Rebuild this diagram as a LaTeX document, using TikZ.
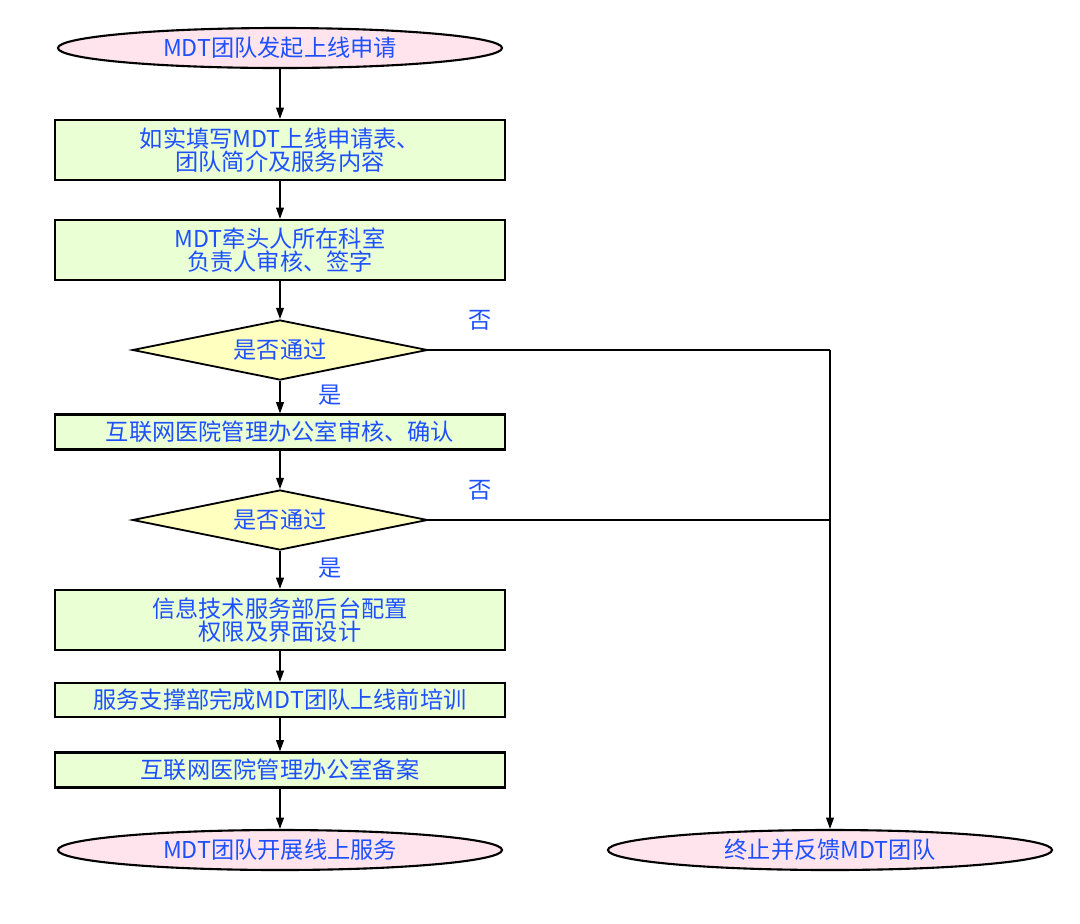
\documentclass[tikz,border=0pt]{standalone}
\usepackage{fontspec}
\setmainfont{Noto Sans CJK SC}
\usepackage{xcolor}
\usepackage{tikz}
\usetikzlibrary{shapes.geometric,arrows.meta}
\definecolor{txtblue}{RGB}{30,80,255}
\definecolor{pinkfill}{RGB}{255,228,238}
\definecolor{greenfill}{RGB}{234,255,212}
\definecolor{yellowfill}{RGB}{255,255,192}

\begin{document}
\begin{tikzpicture}[x=0.025cm,y=-0.025cm,
    font=\fontsize{16.5pt}{15pt}\selectfont, text=txtblue,
    endpoint/.style={ellipse,draw,line width=1.5pt,fill=pinkfill,minimum width=11.1cm,minimum height=1cm,inner sep=0pt},
    stepbox/.style={rectangle,draw,line width=1.5pt,fill=greenfill,minimum width=11.25cm,align=center,inner sep=0pt},
    decide/.style={diamond,draw,line width=1.3pt,fill=yellowfill,minimum width=7.375cm,minimum height=1.5cm,shape aspect=4.9,inner sep=0pt},
    flow/.style={-{Triangle[length=8pt,width=5.5pt]},line width=1pt},
    link/.style={line width=1pt}]
    \useasboundingbox (0,0) rectangle (1080,923);
    % define coordinates
    \coordinate (R1) at (830,350) ;
    \coordinate (R2) at (830,520) ;
    % left column
    \node[endpoint] (start) at (280,48) {MDT团队发起上线申请};
    \node[stepbox,minimum height=1.5cm] (fill) at (280,150) {如实填写MDT上线申请表、\\团队简介及服务内容};
    \node[stepbox,minimum height=1.5cm] (dept) at (280,250) {MDT牵头人所在科室\\负责人审核、签字};
    \node[decide] (check1) at (280,350) {是否通过};
    \node[stepbox,minimum height=0.875cm] (office) at (280,432) {互联网医院管理办公室审核、确认};
    \node[decide] (check2) at (280,520) {是否通过};
    \node[stepbox,minimum height=1.5cm] (config) at (280,620) {信息技术服务部后台配置\\权限及界面设计};
    \node[stepbox,minimum height=0.85cm] (train) at (280,700) {服务支撑部完成MDT团队上线前培训};
    \node[stepbox,minimum height=0.875cm] (record) at (280,770) {互联网医院管理办公室备案};
    \node[endpoint] (online) at (280,850) {MDT团队开展线上服务};
    % right column
    \node[endpoint] (stop) at (830,850) {终止并反馈MDT团队};
    % labels
    \node (no1) at (480,320) {否};
    \node (yes1) at (330,395) {是};
    \node (no2) at (480,490) {否};
    \node (yes2) at (330,568) {是};
    % connectors
    \draw[flow] (start) -- (fill);
    \draw[flow] (fill) -- (dept);
    \draw[flow] (dept) -- (check1);
    \draw[flow] (check1) -- (office);
    \draw[flow] (office) -- (check2);
    \draw[flow] (check2) -- (config);
    \draw[flow] (config) -- (train);
    \draw[flow] (train) -- (record);
    \draw[flow] (record) -- (online);
    \draw[link] (check1.east) -- (R1);
    \draw[link] (check2.east) -- (R2);
    \draw[flow] (R1) -- (stop.north);
    \end{tikzpicture}
\end{document}
